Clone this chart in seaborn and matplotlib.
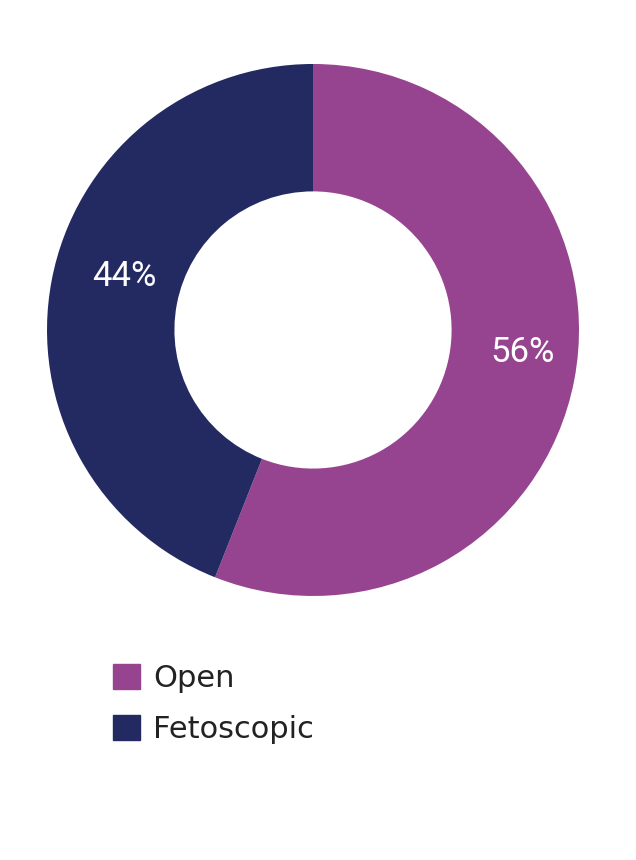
import matplotlib
matplotlib.use("Agg")
import matplotlib.pyplot as plt
import matplotlib.patches as mpatches
import seaborn as sns

# -------------------------
# Data
# -------------------------
categories = ["Open", "Fetoscopic"]
shares = [56, 44]
colors = ["#96448F", "#232A61"]

sns.set_theme(style="white")
plt.rcParams["font.family"] = ["DejaVu Sans"]

fig = plt.figure(figsize=(6.36, 8.6), dpi=100)
# axes sized so the ring sits where it does in the reference
ax = fig.add_axes([0.0739, 0.307, 0.8365, 0.6186])

wedges, _ = ax.pie(
    shares,
    colors=colors,
    startangle=90,
    counterclock=False,
    radius=1.0,
    wedgeprops=dict(width=0.479, linewidth=0),
)
ax.set_xlim(-1, 1)
ax.set_ylim(-1, 1)
ax.set_aspect("equal")
ax.axis("off")

# percentage labels
label_pos = [(0.786, -0.083), (-0.71, 0.20)]
for (x, y), v in zip(label_pos, shares):
    ax.text(x, y, f"{v}%", color="white", fontsize=25, ha="center", va="center",
            family=["Liberation Sans Narrow", "Roboto", "DejaVu Sans"])

# legend
handles = [mpatches.Patch(color=c, label=l) for c, l in zip(colors, categories)]
fig.legend(
    handles=handles,
    loc="upper left",
    bbox_to_anchor=(0.135, 0.260),
    frameon=False,
    fontsize=22,
    handlelength=0.86,
    handleheight=0.86,
    handletextpad=0.45,
    labelspacing=0.72,
    labelcolor="#222222",
)

plt.savefig("out.png", dpi=100)
plt.close()
